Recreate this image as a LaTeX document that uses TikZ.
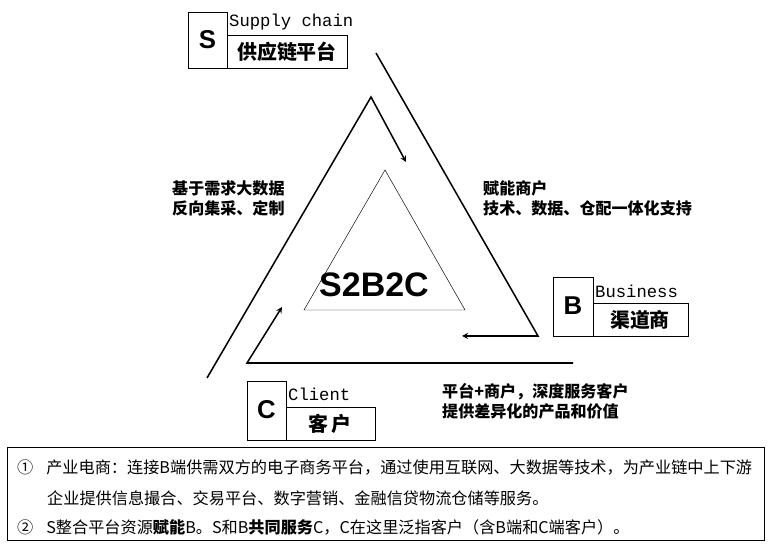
\documentclass[tikz,border=0pt]{standalone}
\usepackage{fontspec}
\setmainfont{Liberation Sans}
\setmonofont{Liberation Mono}
\newfontfamily\cjk{Noto Sans CJK SC}
\begin{document}
\begin{tikzpicture}[x=0.03cm, y=-0.03cm, >=stealth,
    flow/.style={line width=1.3pt},
    lbl/.style={font=\cjk\bfseries\fontsize{13.7}{17}\selectfont, align=left, anchor=west, inner sep=0pt},
    note/.style={font=\cjk\fontsize{13.8}{16}\selectfont, anchor=west, inner sep=0pt}]
        \useasboundingbox (0, 0) rectangle (772, 545);
        % three bent arrows
        \coordinate (S0) at (207, 378);
        \coordinate (S1) at (371, 97);
        \coordinate (S2) at (406, 162);
        \coordinate (B0) at (376, 53);
        \coordinate (B1) at (538, 336);
        \coordinate (B2) at (462, 336);
        \coordinate (C0) at (573, 363);
        \coordinate (C1) at (247, 363);
        \coordinate (C2) at (282, 307);
        \draw[flow, ->] (S0)--(S1)--(S2);
        \draw[flow, ->] (B0)--(B1)--(B2);
        \draw[flow, ->] (C0)--(C1)--(C2);
        % inner triangle
        \draw (385, 170)--(465, 310)--(304, 310)--cycle;
        \node (core) at (374, 285) {\bfseries\fontsize{29}{29}\selectfont S2B2C};
        % S box
        \draw[thick] (188, 12) rectangle (227, 68);
        \draw[thick] (227, 35) rectangle (347, 68);
        \node (S) at (207.5, 40) {\bfseries\fontsize{22}{22}\selectfont S};
        \node[anchor=west, inner sep=0pt] (Sen) at (229, 22) {\ttfamily\fontsize{14.7}{14.7}\selectfont Supply chain};
        \node (Scn) at (287, 52) {\cjk\bfseries\fontsize{17}{17}\selectfont 供应链平台};
        % B box
        \draw[thick] (553, 277) rectangle (593, 336);
        \draw[thick] (593, 303) rectangle (688, 336);
        \node (B) at (573, 306) {\bfseries\fontsize{22}{22}\selectfont B};
        \node[anchor=west, inner sep=0pt] (Ben) at (595, 291) {\ttfamily\fontsize{14.7}{14.7}\selectfont Business};
        \node (Bcn) at (640, 320) {\cjk\bfseries\fontsize{17}{17}\selectfont 渠道商};
        % C box
        \draw[thick] (247, 381) rectangle (286, 440);
        \draw[thick] (286, 407) rectangle (375, 440);
        \node (C) at (266.5, 410) {\bfseries\fontsize{22}{22}\selectfont C};
        \node[anchor=west, inner sep=0pt] (Cen) at (288, 394) {\ttfamily\fontsize{14.7}{14.7}\selectfont Client};
        \node (Ccn) at (330, 424) {\cjk\bfseries\fontsize{17}{17}\selectfont 客\,户};
        % side labels
        \node[lbl] (left) at (172, 198) {基于需求大数据\\反向集采、定制};
        \node[lbl] (right) at (483, 198) {赋能商户\\技术、数据、仓配一体化支持};
        \node[lbl] (bottom) at (442, 401) {平台+商户，深度服务客户\\提供差异化的产品和价值};
        % notes
        \draw (7, 447) rectangle (764, 540);
        \node[note] (n1) at (17, 468) {①\hspace{11pt}产业电商：连接B端供需双方的电子商务平台，通过使用互联网、大数据等技术，为产业链中上下游};
        \node[note] (n1b) at (47, 498) {企业提供信息撮合、交易平台、数字营销、金融信贷物流仓储等服务。};
        \node[note] (n2) at (17, 527) {②\hspace{11pt}S整合平台资源\textbf{赋能}B。S和B\textbf{共同服务}C，C在这里泛指客户（含B端和C端客户）。};
    \end{tikzpicture}
\end{document}
